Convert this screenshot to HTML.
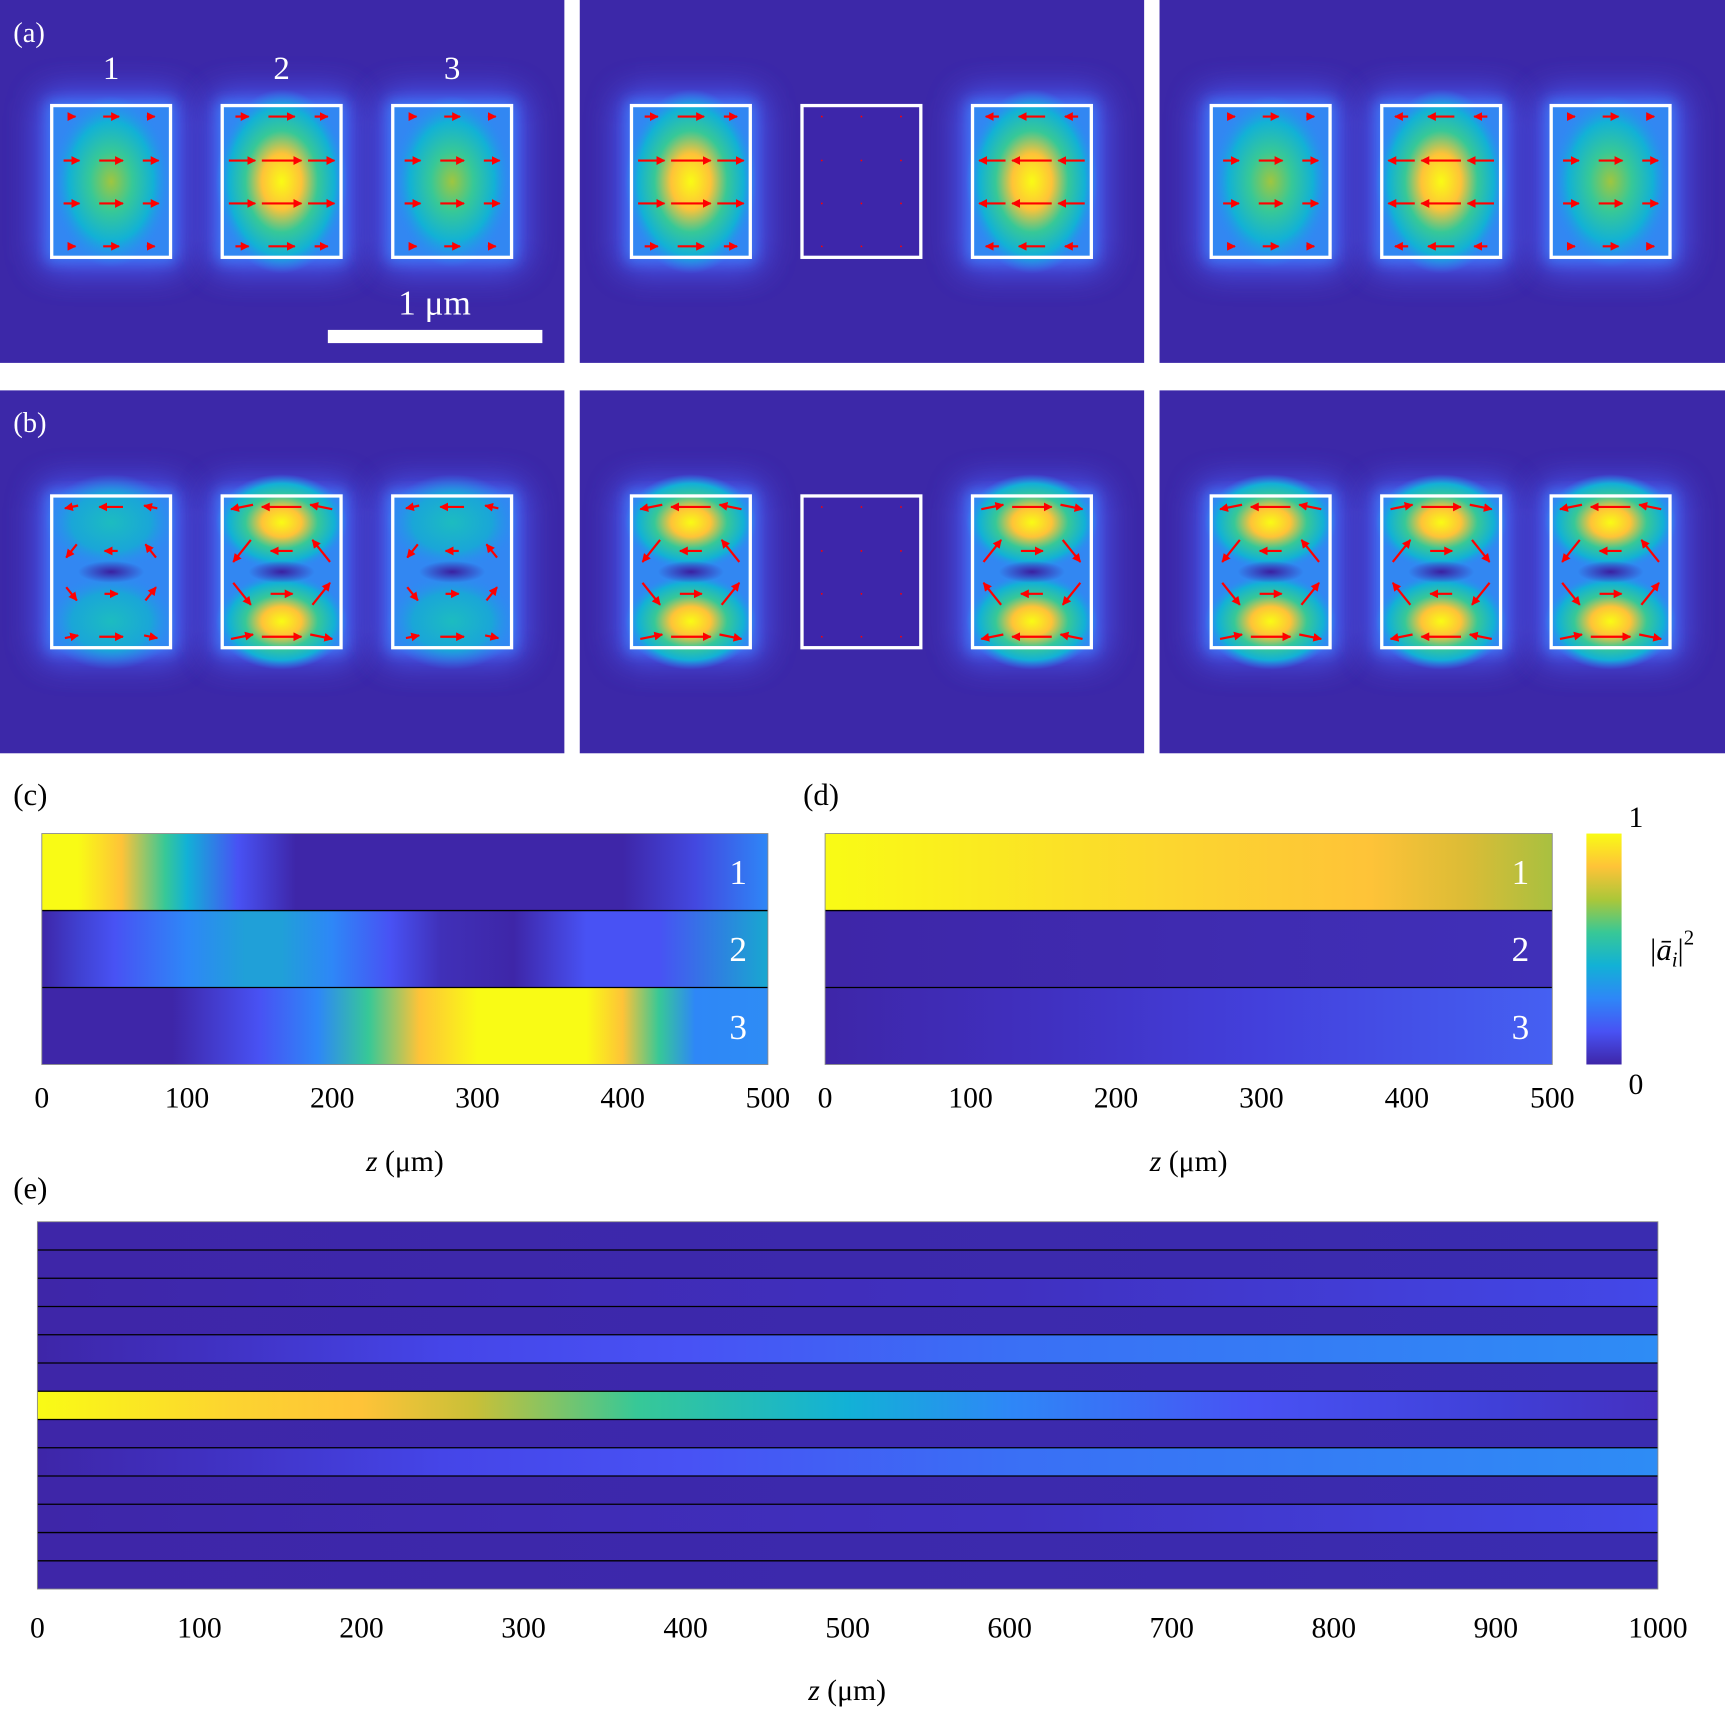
<!DOCTYPE html>
<html><head><meta charset="utf-8"><style>
html,body{margin:0;padding:0;background:#fff}
svg{display:block}
text{font-family:"Liberation Serif",serif}
</style></head><body>
<svg id="s" width="1725" height="1710" viewBox="0 0 1568 1555" preserveAspectRatio="none" xmlns="http://www.w3.org/2000/svg">
<defs>
<filter id="bl" x="-50%" y="-50%" width="200%" height="200%"><feGaussianBlur stdDeviation="14"/></filter>
<filter id="bl2" x="-50%" y="-50%" width="200%" height="200%"><feGaussianBlur stdDeviation="6"/></filter>
<marker id="ar" viewBox="0 0 10 10" refX="9" refY="5" markerWidth="4" markerHeight="4" orient="auto"><path d="M0,0L10,5L0,10z" fill="#f00"/></marker>
<linearGradient id="cb" x1="0" y1="1" x2="0" y2="0">
<stop offset="0" stop-color="#3e26a8"/><stop offset=".143" stop-color="#4852f4"/><stop offset=".286" stop-color="#2e87f7"/><stop offset=".429" stop-color="#12b1d6"/><stop offset=".571" stop-color="#37c897"/><stop offset=".714" stop-color="#abc739"/><stop offset=".857" stop-color="#fec338"/><stop offset="1" stop-color="#f9fb15"/>
</linearGradient>
<radialGradient id="gY"><stop offset="0" stop-color="#f9fb15"/><stop offset=".3" stop-color="#fec338"/><stop offset=".55" stop-color="#37c897"/><stop offset=".8" stop-color="#12b1d6"/><stop offset="1" stop-color="#2e87f7" stop-opacity="0"/></radialGradient>
<radialGradient id="gG"><stop offset="0" stop-color="#9fc640"/><stop offset=".35" stop-color="#37c897"/><stop offset=".7" stop-color="#12b1d6"/><stop offset="1" stop-color="#2e87f7" stop-opacity="0"/></radialGradient>
<radialGradient id="gC"><stop offset="0" stop-color="#1cbcc0"/><stop offset=".6" stop-color="#1aa6d8"/><stop offset="1" stop-color="#2e87f7" stop-opacity="0"/></radialGradient>
<radialGradient id="gD"><stop offset="0" stop-color="#3a20a0"/><stop offset="1" stop-color="#3a20a0" stop-opacity="0"/></radialGradient>
</defs>
<g id="g"></g>
</svg>
<script>
const P=["#3e26a8","#4852f4","#2e87f7","#12b1d6","#37c897","#abc739","#fec338","#f9fb15"];
const BG="#3c28a8";
let h="";
function grad(id,stops,x1,x2){h+=`<linearGradient id="${id}" gradientUnits="userSpaceOnUse" x1="${x1}" x2="${x2}" y1="0" y2="0">`+stops.map(s=>`<stop offset="${s[0]}" stop-color="${s[1]}"/>`).join("")+`</linearGradient>`;}
const rowsY=[[0,330],[355,685]];
const px=[[0,513],[527,1040],[1054,1568]];
const bx=[[47,202,357],[574,729,884],[1101,1256,1410]];
let body="";
const amp=[[[1,2,1],[2,0,2],[1,2,1]],[[1,2,1],[2,0,2],[2,2,2]]];
for(let r=0;r<2;r++){const [y0,y1]=rowsY[r];
for(let p=0;p<3;p++){
 body+=`<rect x="${px[p][0]}" y="${y0}" width="${px[p][1]-px[p][0]}" height="${y1-y0}" fill="${BG}"/>`;
 body+=`<svg x="${px[p][0]}" y="${y0}" width="${px[p][1]-px[p][0]}" height="${y1-y0}" overflow="hidden"><g transform="translate(${-px[p][0]},${-y0})">`;
 for(let b=0;b<3;b++){const a=amp[r][p][b];const x=bx[p][b],y=y0+96,w=108,hh=138,cx=x+w/2,cy=y+hh/2;
  if(a==0){body+=`<rect x="${x}" y="${y}" width="${w}" height="${hh}" fill="#3d26aa"/>`;}
  else{
   body+=`<rect x="${x-14}" y="${y-14}" width="${w+28}" height="${hh+28}" rx="20" fill="#4a5cf5" opacity=".9" filter="url(#bl)"/>`;
   body+=`<rect x="${x-4}" y="${y-4}" width="${w+8}" height="${hh+8}" fill="#3a7cf5" filter="url(#bl2)"/>`;
   body+=`<rect x="${x}" y="${y}" width="${w}" height="${hh}" fill="#3287f2"/>`;
   if(r==0){body+=`<ellipse cx="${cx}" cy="${cy}" rx="${a==2?60:55}" ry="${a==2?84:78}" fill="url(#${a==2?'gY':'gG'})"/>`;}
   else{const g=a==2?'gY':'gC';
    body+=`<ellipse cx="${cx}" cy="${cy-45}" rx="60" ry="44" fill="url(#${g})"/><ellipse cx="${cx}" cy="${cy+45}" rx="60" ry="44" fill="url(#${g})"/>`;
    body+=`<ellipse cx="${cx}" cy="${cy}" rx="30" ry="10" fill="url(#gD)"/>`;
   }
  }
  const rowsA=[y+10,y+50,y+89,y+128];const cols=[x+18,x+54,x+90];
  for(let i=0;i<4;i++)for(let j=0;j<3;j++){
   let s=a==0?0:(a==2?1:0.6);let dx=0,dy=0,L;
   if(r==0){L=(i==1||i==2)?(j==1?18:12):(j==1?12:6);dx=L*s;if(p==2&&b==1)dx=-dx;if(p==1&&b==2)dx=-dx;}
   else{if(i==0){dx=-(j==1?18:10)*s;dy=(j==0?1:j==2?-1:0)*2*s;}
    else if(i==3){dx=(j==1?18:10)*s;dy=(j==0?-1:j==2?1:0)*2*s;}
    else if(i==1){if(j==1)dx=-10*s;else{dx=-8*s;dy=(j==0?10:-10)*s;}}
    else{if(j==1)dx=10*s;else{dx=8*s;dy=(j==0?10:-10)*s;}}
    if((p==1&&b==2)||(p==2&&b==1)){dx=-dx;dy=-dy;}
   }
   if(s>0)body+=`<line x1="${cols[j]-dx}" y1="${rowsA[i]-dy}" x2="${cols[j]+dx}" y2="${rowsA[i]+dy}" stroke="#f00" stroke-width="2" marker-end="url(#ar)"/>`;
   else body+=`<circle cx="${cols[j]}" cy="${rowsA[i]}" r="0.8" fill="#f00"/>`;
  }
  body+=`<rect x="${x}" y="${y}" width="${w}" height="${hh}" fill="none" stroke="#fff" stroke-width="3"/>`;
 }
 body+=`</g></svg>`;
}}
body+=`<text x="12" y="38" font-size="26" fill="#fff">(a)</text><text x="12" y="393" font-size="26" fill="#fff">(b)</text>`;
body+=`<text x="101" y="72" font-size="30" fill="#fff" text-anchor="middle">1</text><text x="256" y="72" font-size="30" fill="#fff" text-anchor="middle">2</text><text x="411" y="72" font-size="30" fill="#fff" text-anchor="middle">3</text>`;
body+=`<text x="395" y="286" font-size="32" fill="#fff" text-anchor="middle">1 μm</text><rect x="298" y="300" width="195" height="12" fill="#fff"/>`;
function row(id,x1,x2,y,hh,stops){grad(id,stops,x1,x2);body+=`<rect x="${x1}" y="${y}" width="${x2-x1}" height="${hh}" fill="url(#${id})"/>`;}
const c0=38,c1=698,d0=750,d1=1411;
row("c1",c0,c1,758,70,[[0,P[7]],[.05,P[7]],[.11,P[6]],[.17,P[4]],[.2,P[3]],[.27,P[1]],[.35,P[0]],[.8,P[0]],[.9,"#4348e0"],[1,P[2]]]);
row("c2",c0,c1,828,70,[[0,P[0]],[.05,"#4040d0"],[.1,P[1]],[.2,P[2]],[.28,"#20a0d8"],[.33,"#20a0d8"],[.4,P[2]],[.48,P[1]],[.55,"#4030b8"],[.65,P[0]],[.75,P[1]],[.85,P[1]],[1,"#18a8d0"]]);
row("c3",c0,c1,898,70,[[0,P[0]],[.18,P[0]],[.3,P[1]],[.38,P[2]],[.45,P[4]],[.52,P[6]],[.6,P[7]],[.75,P[7]],[.8,P[6]],[.85,P[4]],[.9,P[2]],[1,"#2e8cf5"]]);
row("d1",d0,d1,758,70,[[0,P[7]],[.5,"#fcd430"],[.75,P[6]],[.88,"#dcbc36"],[1,"#a8c040"]]);
row("d2",d0,d1,828,70,[[0,P[0]],[1,"#4030b8"]]);
row("d3",d0,d1,898,70,[[0,P[0]],[.3,"#4030c0"],[.6,"#4340dc"],[1,"#4560f2"]]);
for(const [a,b] of [[c0,c1],[d0,d1]]){for(const yy of [828,898])body+=`<line x1="${a}" x2="${b}" y1="${yy}" y2="${yy}" stroke="#000" stroke-width="1.2"/>`;
 body+=`<rect x="${a}" y="758" width="${b-a}" height="210" fill="none" stroke="#888" stroke-width="0.8"/>`;
 for(let i=0;i<=5;i++){const xx=a+i*(b-a)/5;body+=`<text x="${xx}" y="1007" font-size="27" text-anchor="middle">${i*100}</text>`;}
 body+=`<text x="${(a+b)/2}" y="1065" font-size="27" text-anchor="middle"><tspan font-style="italic">z</tspan> (μm)</text>`;}
for(const [i,yy] of [[1,793],[2,863],[3,934]]){body+=`<text x="671" y="${yy+11}" font-size="32" fill="#fff" text-anchor="middle">${i}</text><text x="1382" y="${yy+11}" font-size="32" fill="#fff" text-anchor="middle">${i}</text>`;}
body+=`<text x="12" y="732" font-size="28">(c)</text><text x="730" y="732" font-size="28">(d)</text><text x="12" y="1090" font-size="28">(e)</text>`;
body+=`<rect x="1442" y="758" width="32" height="210" fill="url(#cb)"/><text x="1487" y="752" font-size="27" text-anchor="middle">1</text><text x="1487" y="995" font-size="27" text-anchor="middle">0</text>`;
body+=`<text x="1500" y="873" font-size="28">|<tspan font-style="italic">ā</tspan><tspan font-size="19" dy="6" font-style="italic">i</tspan><tspan dy="-6">|</tspan><tspan font-size="19" dy="-14">2</tspan></text>`;
const e0=34,e1=1507,ey0=1111,ey1=1445,rh=(ey1-ey0)/13;
const D=[[0,P[0]],[1,"#3a2cb0"]];
const eRows=[D,D,[[0,P[0]],[.6,"#4030c0"],[1,"#4348e8"]],D,[[0,P[0]],[.1,"#4030c0"],[.25,"#4545e8"],[.4,P[1]],[.6,"#3a6ff5"],[1,"#2e8cf5"]],D,
[[0,P[7]],[.12,"#fcd430"],[.2,P[6]],[.27,"#c8c038"],[.37,P[4]],[.5,P[3]],[.6,P[2]],[.75,P[1]],[.9,"#4040d8"],[1,"#4530c0"]],D,
[[0,P[0]],[.1,"#4030c0"],[.25,"#4545e8"],[.4,P[1]],[.6,"#3a6ff5"],[1,"#2e8cf5"]],D,[[0,P[0]],[.6,"#4030c0"],[1,"#4348e8"]],D,D];
eRows.forEach((st,i)=>row("e"+i,e0,e1,ey0+i*rh,rh,st));
for(let i=1;i<13;i++)body+=`<line x1="${e0}" x2="${e1}" y1="${ey0+i*rh}" y2="${ey0+i*rh}" stroke="#000" stroke-width="1.2"/>`;
body+=`<rect x="${e0}" y="${ey0}" width="${e1-e0}" height="${ey1-ey0}" fill="none" stroke="#888" stroke-width="0.8"/>`;
for(let i=0;i<=10;i++)body+=`<text x="${e0+i*(e1-e0)/10}" y="1489" font-size="27" text-anchor="middle">${i*100}</text>`;
body+=`<text x="770" y="1546" font-size="27" text-anchor="middle"><tspan font-style="italic">z</tspan> (μm)</text>`;
document.querySelector("defs").insertAdjacentHTML("beforeend",h);
document.getElementById("g").innerHTML=body;
</script>
</body></html>
